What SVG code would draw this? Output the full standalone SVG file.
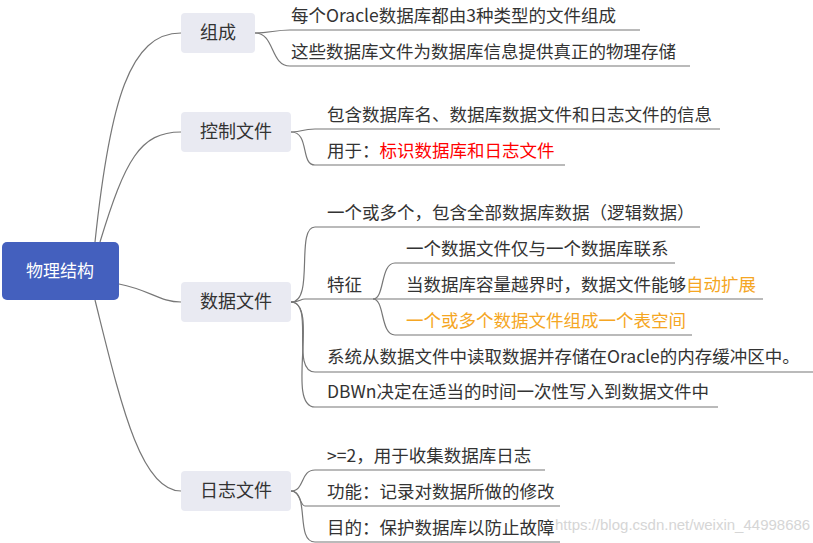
<svg xmlns="http://www.w3.org/2000/svg" width="813" height="543" viewBox="0 0 813 543">
<style>
text{font-family:"Noto Sans CJK SC","Microsoft YaHei",sans-serif;font-size:17.5px;fill:#333}
.b{fill:#e9eaf2}
.c{fill:none;stroke:#777;stroke-width:1.2}
.o{fill:#f5a623}
.r{fill:#ff0000}
.t1{text-anchor:middle;font-size:18px}
</style>
<rect width="813" height="543" fill="#fff"/>
<g id="connectors">
<path class="c" d="M95,242 C110,100 130,33 181,33"/>
<path class="c" d="M100,242 C125,160 140,132 181,132"/>
<path class="c" d="M119,284 C150,290 160,302 181,302"/>
<path class="c" d="M95,300 C120,400 140,491 181,491"/>
<path class="c" d="M255,33 C270,33 275,30 290,30 L640,30"/>
<path class="c" d="M255,33 C275,33 270,66 290,66 L690,66"/>
<path class="c" d="M291,132 C305,132 300,129 315,129 L720,129"/>
<path class="c" d="M291,132 C310,132 300,165 315,165 L565,165"/>
<path class="c" d="M291,302 C315,302 295,227 315,227 L700,227"/>
<path class="c" d="M291,302 C300,302 300,299 305,299 L373,299"/>
<path class="c" d="M291,302 C315,302 290,372 315,372 L813,372"/>
<path class="c" d="M291,302 C320,302 285,407 315,407 L718,407"/>
<path class="c" d="M373,299 C385,299 380,263 395,263 L675,263"/>
<path class="c" d="M373,299 L763,299"/>
<path class="c" d="M373,299 C385,299 380,335 395,335 L692,335"/>
<path class="c" d="M291,491 C305,491 300,470 315,470 L545,470"/>
<path class="c" d="M291,491 C300,491 300,506 305,506 L560,506"/>
<path class="c" d="M291,491 C310,491 295,542 315,542 L560,542"/>
</g>
<g id="root"><rect x="2" y="242" width="117" height="58" rx="5" fill="#4460be"/><text x="60" y="277" class="t1" style="fill:#fff;font-size:17px">物理结构</text></g>
<g id="n1"><rect class="b" x="181" y="13" width="74" height="40" rx="4"/><text x="218" y="39" class="t1">组成</text></g>
<g id="n2"><rect class="b" x="181" y="112" width="110" height="40" rx="4"/><text x="236" y="138" class="t1">控制文件</text></g>
<g id="n3"><rect class="b" x="181" y="282" width="110" height="40" rx="4"/><text x="236" y="308" class="t1">数据文件</text></g>
<g id="n4"><rect class="b" x="181" y="471" width="110" height="40" rx="4"/><text x="236" y="497" class="t1">日志文件</text></g>
<g id="leaves">
<text x="291" y="22">每个Oracle数据库都由3种类型的文件组成</text>
<text x="291" y="58">这些数据库文件为数据库信息提供真正的物理存储</text>
<text x="327" y="121">包含数据库名、数据库数据文件和日志文件的信息</text>
<text x="327" y="157">用于：<tspan class="r">标识数据库和日志文件</tspan></text>
<text x="327" y="219">一个或多个，包含全部数据库数据（逻辑数据）</text>
<text x="327" y="291">特征</text>
<text x="406" y="255">一个数据文件仅与一个数据库联系</text>
<text x="406" y="291">当数据库容量越界时，数据文件能够<tspan class="o">自动扩展</tspan></text>
<text x="406" y="327" class="o">一个或多个数据文件组成一个表空间</text>
<text x="327" y="363">系统从数据文件中读取数据并存储在Oracle的内存缓冲区中。</text>
<text x="327" y="398">DBWn决定在适当的时间一次性写入到数据文件中</text>
<text x="327" y="462">&gt;=2，用于收集数据库日志</text>
<text x="327" y="498">功能：记录对数据所做的修改</text>
<text x="327" y="534">目的：保护数据库以防止故障</text>
</g>
<text x="555" y="530" style="font-family:'Liberation Sans',sans-serif;font-size:15px;fill:#ccc;opacity:0.8">https://blog.csdn.net/weixin_44998686</text>
</svg>
